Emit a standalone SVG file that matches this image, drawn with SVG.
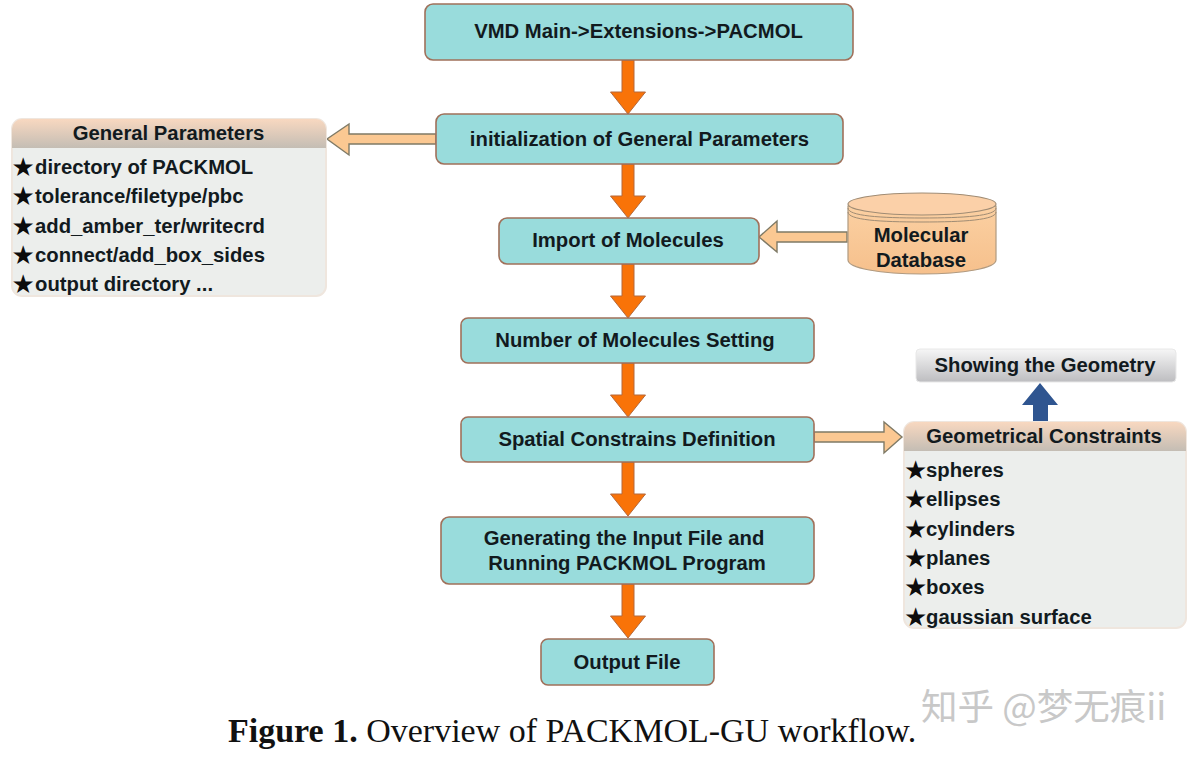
<svg xmlns="http://www.w3.org/2000/svg" width="1195" height="757" viewBox="0 0 1195 757">
<style>
text{font-family:"Liberation Sans",Arial,sans-serif;font-weight:700;fill:#121a1e}
.t{font-size:20.300px;text-anchor:middle}
.l{font-size:20.300px}
.h{font-size:20.300px;text-anchor:middle}
.box{fill:#99dcdc;stroke:#a0705a;stroke-width:1.600}
.down{fill:#f97308;stroke:#b5683a;stroke-width:1}
.side{fill:#fbc892;stroke:#7f7a66;stroke-width:1.400}
.panel{fill:#eceeec;stroke:#efe6de;stroke-width:2}
.star{font-size:26px;font-family:"DejaVu Sans",sans-serif;font-weight:400;fill:#0c0c0c}
.cap{font-family:"Liberation Serif",serif;font-size:34px;font-weight:400;fill:#111}
.wm{font-family:"Noto Sans CJK SC",sans-serif;font-size:36.500px;font-weight:400;fill:#c8c8c8}
</style>
<defs>
<linearGradient id="hd" x1="0" y1="0" x2="0" y2="1"><stop offset="0" stop-color="#f8d8c0"/><stop offset="1" stop-color="#c4bdb4"/></linearGradient>
<linearGradient id="gr" x1="0" y1="0" x2="0" y2="1"><stop offset="0" stop-color="#f6f6f6"/><stop offset="1" stop-color="#bdbdc0"/></linearGradient>
<linearGradient id="cy" x1="0" y1="0" x2="0" y2="1"><stop offset="0" stop-color="#fbd0a2"/><stop offset="1" stop-color="#f6c08c"/></linearGradient>
<path id="dn" d="M622 0H634V32H645.500L628 54L610.500 32H622Z"/>
</defs>
<rect width="1195" height="757" fill="#fff"/>
<g id="connectors">
<use href="#dn" class="down" y="60"/>
<use href="#dn" class="down" y="164"/>
<use href="#dn" class="down" y="264"/>
<use href="#dn" class="down" y="363"/>
<use href="#dn" class="down" y="462"/>
<use href="#dn" class="down" y="584"/>
<path class="side" d="M436 134H349V124L327 139L349 155V144H436Z"/>
<path class="side" d="M847 232H777V221L759 237L777 252V242H847Z"/>
<path class="side" d="M814 432H884V422L902 437L884 453V442H814Z"/>
<path d="M1033 422V405H1022L1040 383L1058 405H1048V422Z" fill="#2f5590"/>
</g>
<g id="n-vmd"><rect class="box" x="425" y="4" width="428" height="56" rx="8"/><text class="t" x="638.500" y="38">VMD Main-&gt;Extensions-&gt;PACMOL</text></g>
<g id="n-init"><rect class="box" x="436" y="114" width="407" height="50" rx="8"/><text class="t" x="639.500" y="146">initialization of General Parameters</text></g>
<g id="n-import"><rect class="box" x="499" y="218" width="260" height="46" rx="8"/><text class="t" x="628" y="247">Import of Molecules</text></g>
<g id="n-number"><rect class="box" x="461" y="318" width="353" height="45" rx="7"/><text class="t" x="635" y="347">Number of Molecules Setting</text></g>
<g id="n-spatial"><rect class="box" x="461" y="417" width="353" height="45" rx="7"/><text class="t" x="637" y="446">Spatial Constrains Definition</text></g>
<g id="n-generating"><rect class="box" x="441" y="517" width="373" height="67" rx="8"/><text class="t" x="624" y="545">Generating the Input File and</text><text class="t" x="627" y="570">Running PACKMOL Program</text></g>
<g id="n-output"><rect class="box" x="541" y="639" width="173" height="46" rx="7"/><text class="t" x="627" y="669">Output File</text></g>
<g id="n-general">
<rect class="panel" x="12" y="119" width="314" height="177" rx="10"/>
<path d="M12 148V129a10 10 0 0 1 10-10H316a10 10 0 0 1 10 10V148Z" fill="url(#hd)"/>
<text class="h" x="168.500" y="140">General Parameters</text>
<text class="star" x="11.500" y="176">★</text><text class="l" x="35" y="174">directory of PACKMOL</text>
<text class="star" x="11.500" y="205">★</text><text class="l" x="35" y="203">tolerance/filetype/pbc</text>
<text class="star" x="11.500" y="235">★</text><text class="l" x="35" y="233">add_amber_ter/writecrd</text>
<text class="star" x="11.500" y="264">★</text><text class="l" x="35" y="262">connect/add_box_sides</text>
<text class="star" x="11.500" y="293">★</text><text class="l" x="35" y="291">output directory ...</text>
</g>
<g id="n-database">
<path d="M848 206V260C848 268 880 274 922 274S996 268 996 260V206Z" fill="url(#cy)" stroke="#b09a80" stroke-width="1.200"/>
<ellipse cx="922" cy="204" rx="74" ry="11" fill="#fbd0a8" stroke="#a08c74" stroke-width="1.200"/>
<path d="M848 208C848 216 880 218 922 218S996 216 996 208M848 212C848 220 880 222 922 222S996 220 996 212" fill="none" stroke="#a08c74" stroke-width="1"/>
<text class="t" x="921" y="242">Molecular</text><text class="t" x="921" y="267">Database</text>
</g>
<g id="n-showing"><rect x="916" y="349" width="260" height="33" rx="4" fill="url(#gr)" stroke="#e8e8e8"/><text class="t" x="1045" y="372">Showing the Geometry</text></g>
<g id="n-geometry">
<rect class="panel" x="904" y="422" width="282" height="206" rx="10"/>
<path d="M904 451V432a10 10 0 0 1 10-10H1176a10 10 0 0 1 10 10V451Z" fill="url(#hd)"/>
<text class="h" x="1044" y="443">Geometrical Constraints</text>
<text class="star" x="904" y="479">★</text><text class="l" x="926" y="477">spheres</text>
<text class="star" x="904" y="508">★</text><text class="l" x="926" y="506">ellipses</text>
<text class="star" x="904" y="538">★</text><text class="l" x="926" y="536">cylinders</text>
<text class="star" x="904" y="567">★</text><text class="l" x="926" y="565">planes</text>
<text class="star" x="904" y="596">★</text><text class="l" x="926" y="594">boxes</text>
<text class="star" x="904" y="626">★</text><text class="l" x="926" y="624">gaussian surface</text>
</g>
<text class="cap" x="228" y="742"><tspan font-weight="700">Figure 1.</tspan> Overview of PACKMOL-GU workflow.</text>
<text class="wm" x="921" y="720">知乎 @梦无痕ii</text>
</svg>
